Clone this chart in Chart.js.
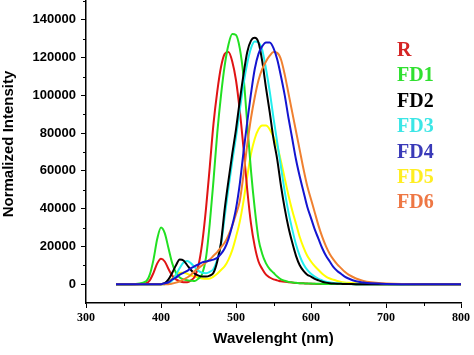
<!DOCTYPE html>
<html><head><meta charset="utf-8">
<script src="https://cdn.jsdelivr.net/npm/chart.js@4"></script>
<style>html,body{margin:0;padding:0;background:#fff;}#wrap{width:474px;height:355px;position:relative;}</style>
</head><body><div id="wrap"><canvas id="c" width="474" height="355"></canvas></div>
<script>
// wavelength (nm)
const wavelength = [340,360,380,385,390,395,400,405,410,415,420,425,430,435,440,
  445,450,455,460,465,470,475,480,485,490,495,500,
  505,510,515,520,525,530,535,540,545,550,555,560,
  565,570,575,580,585,590,595,600,605,610,615,620,
  625,630,635,640,645,650,
  660,670,680,700,750,800];

const R = [0,0,500,2000,6000,11000,13500,12000,8000,4500,2500,1500,1000,1000,2000,
  4000,10000,22000,40000,62000,85000,102000,115000,122000,123000,118000,108000,
  92000,72000,50000,32000,20000,12000,8000,5000,3500,2500,2000,1500,
  1200,1000,800,600,500,400,300,200,150,100,100,100,
  80,60,50,40,30,20,
  0,0,0,0,0,0];

const FD1 = [0,0,1500,5000,13000,24000,30000,27000,19000,11000,6000,3500,2500,2000,1800,
  1600,3000,5500,14000,32000,55000,80000,100000,116000,127000,132500,132000,
  125000,110000,85000,60000,40000,24000,16000,11000,8000,6000,4000,2500,
  1800,1200,900,700,500,400,300,300,200,200,100,100,
  100,100,80,60,50,40,
  0,0,0,0,0,0];

const FD2 = [0,0,0,0,0,0,0,500,2500,6000,10000,13000,12500,10000,7500,
  5500,4500,4000,4000,4500,6000,12000,22000,40000,55000,69000,82000,
  97000,111000,123000,129000,130500,128000,118000,104000,91000,77000,66000,52000,
  40000,30000,22000,15000,10000,7000,5000,4000,2800,2000,1300,800,
  500,300,200,150,100,80,
  0,0,0,0,0,0];

const FD3 = [0,0,0,0,0,0,0,0,500,2000,5000,8500,11500,12200,11000,
  9000,7000,6000,5800,6500,8000,13000,21000,36000,51000,65000,78000,
  92000,106000,117000,125000,128500,128000,124000,114000,102000,88000,75000,62000,
  49000,38000,29000,21000,15000,10500,7500,5500,4000,2800,2000,1300,
  900,600,400,300,200,100,
  0,0,0,0,0,0];

const FD4 = [0,0,0,0,0,0,0,500,1000,2500,3500,5000,6000,7000,8500,
  9500,10500,11500,12000,12500,13000,14000,16000,19000,24000,31000,40000,
  53000,70000,86000,101000,114000,122000,126000,128000,128000,125000,119000,110000,
  100000,88000,77000,66000,57000,49000,41000,35000,29000,24000,19000,15000,
  12000,9000,7000,5500,4000,3000,
  1500,800,400,100,0,0];

const FD5 = [0,0,0,0,0,0,0,0,1000,3000,5000,6000,6000,5500,4500,
  4000,3500,3000,2800,3000,4000,5500,7500,9500,13000,18000,25000,
  33000,44000,57000,69000,77000,82000,84000,84000,82000,78000,73000,65000,
  56000,47000,39000,32000,25000,19500,15000,12000,9500,7500,5500,4000,
  3000,2300,1700,1200,900,700,
  400,200,100,0,0,0];

const FD6 = [0,0,0,0,0,0,0,0,0,300,800,1500,2500,3500,5000,
  7000,8500,10000,11500,13000,15000,17000,19500,22000,26000,31000,37000,
  44000,58000,74000,88000,99000,108000,114000,118000,121000,123000,122500,119000,
  111000,101000,91000,81000,71000,61000,52000,45000,38000,31000,25000,20000,
  16000,13000,10500,8500,6500,5000,
  3000,1700,1000,300,0,0];

const seriesNames = ['R','FD1','FD2','FD3','FD4','FD5','FD6'];
const seriesValues = [R, FD1, FD2, FD3, FD4, FD5, FD6];
const lineColors = ['#e01414','#22e022','#000000','#22eeee','#1414d0','#ffff00','#f08030'];
const legendColors = ['#d52424','#30e030','#000000','#3ce6e6','#3a3ab8','#ffee22','#ee7744'];
const drawOrder = [5,4,2,3,0,6,1];

const xTickValues = [300,400,500,600,700,800];
const xMinorTicks = [350,450,550,650,750];
const yTickValues = [0,20000,40000,60000,80000,100000,120000,140000];
const yMinorTicks = [10000,30000,50000,70000,90000,110000,130000,150000];
const xTitle = 'Wavelenght (nm)';
const yTitle = 'Normalized Intensity';

const decor = {
  id: 'decor',
  afterDraw(chart) {
    const ctx = chart.ctx, xs = chart.scales.x, ys = chart.scales.y, ca = chart.chartArea;
    ctx.save();
    ctx.strokeStyle = '#000'; ctx.lineWidth = 1;
    ctx.beginPath();
    xMinorTicks.forEach(v => { const px = Math.round(xs.getPixelForValue(v)) + 0.5; ctx.moveTo(px, ca.bottom); ctx.lineTo(px, ca.bottom + 3); });
    yMinorTicks.forEach(v => { const py = Math.round(ys.getPixelForValue(v)) + 0.5; ctx.moveTo(ca.left, py); ctx.lineTo(ca.left - 3, py); });
    ctx.stroke();
    ctx.fillStyle = '#000';
    ctx.font = 'bold 15px "Liberation Sans", Arial, sans-serif';
    ctx.textAlign = 'center'; ctx.textBaseline = 'middle';
    ctx.fillText(xTitle, (ca.left + ca.right) / 2, 339);
    ctx.save(); ctx.translate(9, 144); ctx.rotate(-Math.PI / 2); ctx.fillText(yTitle, 0, 0); ctx.restore();
    ctx.font = 'bold 20px "Liberation Serif", "Times New Roman", serif';
    ctx.textAlign = 'left'; ctx.textBaseline = 'alphabetic';
    seriesNames.forEach((n, i) => { ctx.fillStyle = legendColors[i]; ctx.fillText(n, 397, 56 + i * 25.4); });
    ctx.restore();
  }
};

const datasets = seriesNames.map((name, k) => ({
  label: name,
  data: wavelength.map((x, i) => ({ x: x, y: seriesValues[k][i] })),
  borderColor: lineColors[k],
  backgroundColor: lineColors[k],
  borderWidth: 2,
  pointRadius: 0,
  fill: false,
  cubicInterpolationMode: 'monotone',
  order: drawOrder[k]
}));

new Chart(document.getElementById('c'), {
  type: 'line',
  data: { datasets },
  options: {
    responsive: false,
    animation: false,
    devicePixelRatio: 1,
    layout: { padding: { left: 0, right: 13, top: 1, bottom: 0 } },
    plugins: { legend: { display: false }, tooltip: { enabled: false } },
    scales: {
      x: {
        type: 'linear', min: 300, max: 800,
        afterBuildTicks: s => { s.ticks = xTickValues.map(v => ({ value: v })); },
        afterFit: s => { s.height = 52; s.paddingLeft = 0; s.paddingRight = 0; },
        ticks: { font: { family: '"Liberation Serif", "Times New Roman", serif', weight: 'bold', size: 12 }, color: '#000', padding: 3, maxRotation: 0, autoSkip: false, callback: v => String(v) },
        grid: { display: true, drawOnChartArea: false, drawTicks: true, tickLength: 5, color: '#000', lineWidth: 1 },
        border: { display: true, color: '#000', width: 1.5 }
      },
      y: {
        type: 'linear', min: -10000, max: 150000,
        afterBuildTicks: s => { s.ticks = yTickValues.map(v => ({ value: v })); },
        afterFit: s => { s.width = 86; s.paddingTop = 0; s.paddingBottom = 0; },
        ticks: { font: { family: '"Liberation Sans", Arial, sans-serif', weight: 'bold', size: 13 }, color: '#000', padding: 5, autoSkip: false, callback: v => String(v) },
        grid: { display: true, drawOnChartArea: false, drawTicks: true, tickLength: 5, color: '#000', lineWidth: 1 },
        border: { display: true, color: '#000', width: 1.5 }
      }
    }
  },
  plugins: [decor]
});
</script></body></html>
